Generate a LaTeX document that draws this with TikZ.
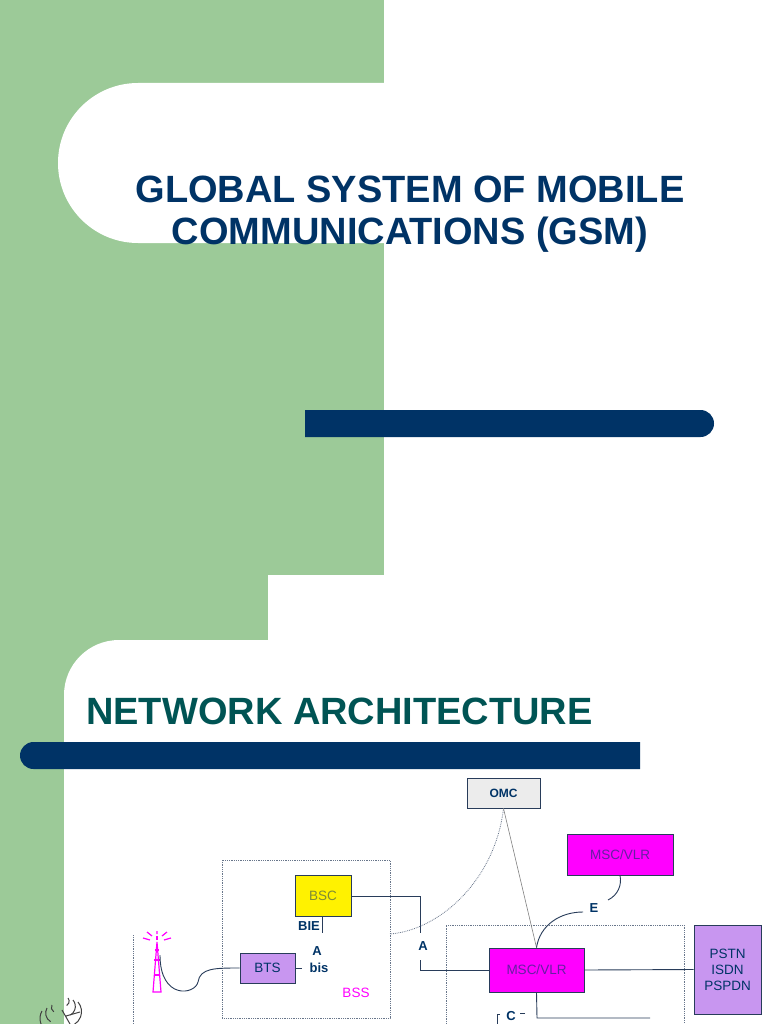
\documentclass[tikz,border=0pt]{standalone}
\usepackage{fontspec}
\setmainfont{Liberation Sans}
\usetikzlibrary{calc}
\definecolor{gr}{RGB}{156,202,152}
\definecolor{navy}{RGB}{0,51,102}
\definecolor{teal2}{RGB}{0,84,84}
\definecolor{mag}{RGB}{255,0,255}
\definecolor{lav}{RGB}{200,150,240}
\definecolor{ln}{RGB}{40,60,90}
\begin{document}
\begin{tikzpicture}[x=1pt,y=-1pt,
  box/.style={draw=ln,line width=0.9pt,minimum width=#1,inner sep=0pt,font=\fontsize{13.5}{13.5}\selectfont},
  lbl/.style={font=\bfseries\fontsize{13}{13}\selectfont,text=navy,inner sep=0pt},
  wire/.style={draw=ln,line width=0.9pt},
  dot/.style={draw=ln!70,line width=0.8pt,densely dotted}]
\useasboundingbox (0,0) rectangle (768,1024);
\fill[white] (0,0) rectangle (768,1024);
\fill[gr] (0,0) rectangle (384,575);
\fill[gr] (0,575) rectangle (268,1024);
\fill[white,rounded corners=80pt] (58,83) rectangle (470,243);
\fill[white] (384,83) rectangle (470,243);
\fill[white,rounded corners=55pt] (64,640) rectangle (900,1200);
% bars
\fill[navy] (305,410) -- (700.5,410) arc (-90:90:13.5) -- (305,437) -- cycle;
\fill[navy] (640,742) -- (33.5,742) arc (-90:-270:13.5) -- (640,769) -- cycle;
% titles
\node[text=navy,font=\bfseries\fontsize{38}{42}\selectfont,align=center] (title) at (410,214) {GLOBAL SYSTEM OF MOBILE\\COMMUNICATIONS (GSM)};
\node[text=teal2,font=\bfseries\fontsize{38}{42}\selectfont,anchor=west,inner sep=0pt] (net) at (86,711) {NETWORK ARCHITECTURE};
% dotted boxes
\draw[dot] (222,860) rectangle (390,1018);
\draw[dot] (446,1040) -- (446,925) -- (684,925) -- (684,1040);
\draw[dot] (133,935) -- (133,1030);
% nodes
\node[box=73pt,minimum height=30pt,fill=gray!15,font=\bfseries\fontsize{12}{12}\selectfont,text=navy] (omc) at (503.5,793) {OMC};
\node[box=106pt,minimum height=41pt,fill=mag,text=navy!60!mag] (msc1) at (620,854.5) {MSC/VLR};
\node[box=56pt,minimum height=41pt,fill=yellow,text=ln!60!yellow] (bsc) at (323,896) {BSC};
\node[box=55pt,minimum height=30pt,fill=lav,text=navy] (bts) at (267.5,968) {BTS};
\node[box=95pt,minimum height=44pt,fill=mag,text=navy!60!mag] (msc) at (536.5,970) {MSC/VLR};
\node[box=67pt,minimum height=89pt,fill=lav,text=navy,align=center,font=\fontsize{13.5}{16}\selectfont] (pstn) at (727.5,969.5) {PSTN\\ISDN\\PSPDN};
\node[font=\fontsize{13.5}{13.5}\selectfont,text=mag] (bss) at (356,993) {BSS};
% labels
\node[lbl] (bie) at (309,926) {BIE};
\node[lbl] (abis1) at (317,951) {A};
\node[lbl] (abis2) at (319,968) {bis};
\node[lbl] (alab) at (423,946) {A};
\node[lbl] (elab) at (594,908) {E};
\node[lbl] (clab) at (511,1016) {C};
% wires
\coordinate (a1) at (420,933);
\coordinate (a2) at (420,960);
\draw[wire] (bsc.east) -- (bsc.east -| a1) -- (a1);
\draw[wire] (a2) -- (a2 |- msc.west) -- (msc.west);
\draw[wire] (322,917) -- (322,933);
\draw[wire] (bts.east) -- (302,968);
\draw[wire] (msc.east) -- (pstn.west);
\draw[dot] (omc.south) .. controls (495,880) and (440,930) .. (390,934);
\draw[draw=gray,line width=0.6pt] (omc.south) -- (msc.north);
\draw[wire] (msc.north) .. controls (540,925) and (560,912) .. (583,912);
\draw[wire] (608,900) .. controls (618,895) and (622,885) .. (msc1.south);
\draw[wire] (msc.south) -- (537,1018) -- (650,1018);
\draw[wire] (525,1013) -- (520,1013);
\draw[wire] (500,1014) -- (497,1014) -- (497,1024);
% antenna
\begin{scope}[mag,line width=1.2pt]
\draw (157,942) -- (153,992) -- (161,992) -- cycle;
\draw (154,960) -- (160,960) (154,975) -- (160,975) (155,950)--(159,950);
\draw (157,940) -- (157,936);
\draw (152,936) -- (147,932) (162,936) -- (167,932) (150,940)--(143,938) (164,940)--(171,938) (157,934)--(157,931);
\end{scope}
\draw[wire] (160,955) .. controls (160,1000) and (195,995) .. (198,982) .. controls (200,968) and (215,968) .. (bts.west);
% phone icon
\begin{scope}[line width=1pt,black!75]
\draw (52,1005) arc (210:120:5);
\draw (47,1008) arc (210:120:10);
\draw (42,1011) arc (210:120:15);
\draw (68,998) arc (-40:60:5);
\draw (73,1000) arc (-40:60:10);
\draw (78,1002) arc (-40:60:15);
\draw (62,1010) -- (70,1024) (66,1016) -- (80,1012);
\end{scope}
\end{tikzpicture}
\end{document}
